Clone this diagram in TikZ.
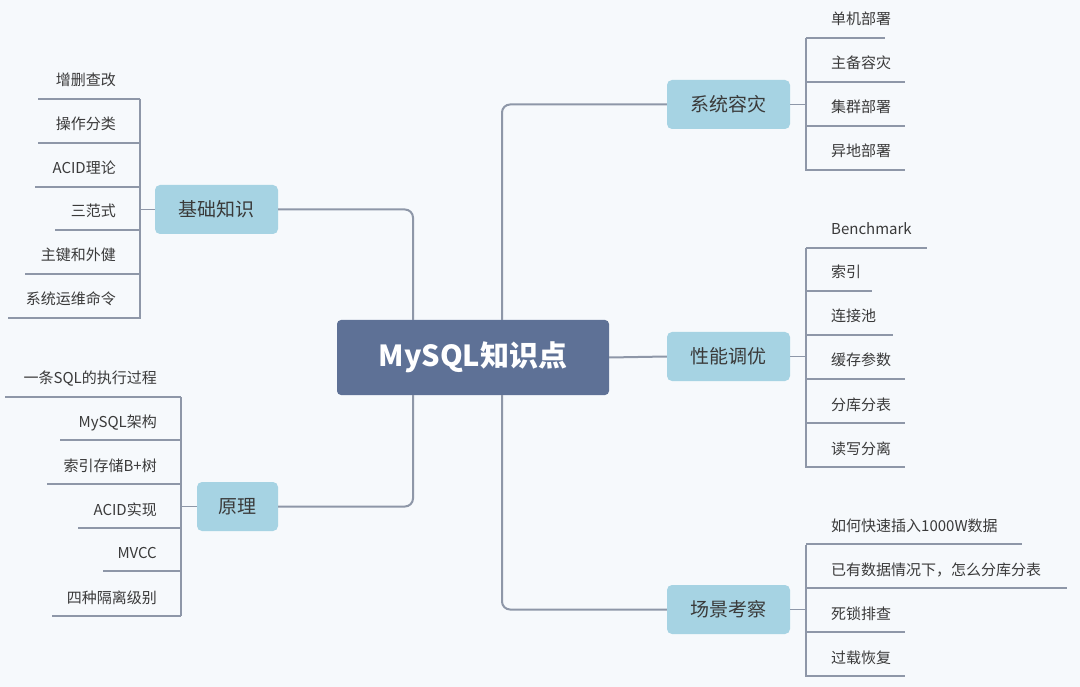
\documentclass[tikz,border=0pt]{standalone}
\usepackage{fontspec}
\setmainfont{Noto Sans CJK SC}
\definecolor{bg}{HTML}{F6F9FC}
\definecolor{ln}{HTML}{8E97A8}
\definecolor{cen}{HTML}{5E7196}
\definecolor{br}{HTML}{A6D3E3}
\definecolor{tx}{HTML}{3A3A3A}
\begin{document}
\begin{tikzpicture}[x=1pt,y=-1pt,
 conn/.style={draw=ln,line width=2pt,rounded corners=8pt},
 uline/.style={draw=ln,line width=1.5pt,rounded corners=6pt},
 brbox/.style={fill=br,rounded corners=5pt,text=tx,font=\fontsize{19}{19}\selectfont,inner sep=0pt},
 lf/.style={text=tx,font=\fontsize{15}{15}\selectfont,inner sep=0pt}]
\fill[bg] (0,0) rectangle (1080,687);
\useasboundingbox (0,0) rectangle (1080,687);
\node[fill=cen,rounded corners=4pt,minimum width=272pt,minimum height=75pt,text=white,font=\fontsize{29}{29}\selectfont\bfseries,inner sep=0pt] (c) at (473,357.5) {MySQL知识点};
\node[brbox,minimum width=123pt,minimum height=49pt] (b1) at (216.5,209.5) {基础知识};
\node[brbox,minimum width=81pt,minimum height=49pt] (b2) at (237.5,506.5) {原理};
\node[brbox,minimum width=123pt,minimum height=49pt] (b3) at (728.5,104.5) {系统容灾};
\node[brbox,minimum width=123pt,minimum height=49pt] (b4) at (728.5,356.5) {性能调优};
\node[brbox,minimum width=123pt,minimum height=49pt] (b5) at (728.5,609.5) {场景考察};
\coordinate (c1) at (413,320); \coordinate (c2) at (413,395);
\coordinate (c3) at (502,320); \coordinate (c5) at (502,395);
\draw[conn] (c1) |- (b1.east);
\draw[conn] (c2) |- (b2.east);
\draw[conn] (c3) |- (b3.west);
\draw[conn] (c.east) -- (b4.west);
\draw[conn] (c5) |- (b5.west);
% left leaves
\newcommand{\leftleaves}[4]{% branch, bracket x, text right x, list {y/ulstart/text}
 \coordinate (bx#1) at (#2,0);
 \draw[conn,line width=1.5pt] (#1.west) -- (#2,0 |- #1.west);
 \foreach \yy/\xs/\tt [count=\i] in {#4}{
   \node[lf,anchor=base east] (#1l\i) at (#3,\yy+5) {\tt};
   \draw[uline] (\xs,\yy+18) -- (#2,\yy+18);
 }}
\leftleaves{b1}{140}{116}{81/38/增删查改,125/38/操作分类,169/35/ACID理论,212/55/三范式,256/25/主键和外健,300/8/系统运维命令}
\draw[uline] (140,99) -- (140,319);
\leftleaves{b2}{181}{157}{379/5/一条SQL的执行过程,422/60/MySQL架构,466/47/索引存储B+树,510/78/ACID实现,553/103/MVCC,598/52/四种隔离级别}
\draw[uline] (181,397) -- (181,616);
% right leaves
\newcommand{\rightleaves}[2]{%
 \draw[conn,line width=1.5pt] (#1.east) -- (806,0 |- #1.east);
 \foreach \yy/\xe/\tt [count=\i] in {#2}{
   \node[lf,anchor=base west] (#1l\i) at (831,\yy+5) {\tt};
   \draw[uline] (806,\yy+18) -- (\xe,\yy+18);
 }}
\rightleaves{b3}{20/885/单机部署,64/905/主备容灾,108/905/集群部署,152/905/异地部署}
\draw[uline] (806,38) -- (806,171);
\rightleaves{b4}{230/927/Benchmark,273/872/索引,317/893/连接池,361/905/缓存参数,405/905/分库分表,449/905/读写分离}
\draw[uline] (806,248) -- (806,468);
\rightleaves{b5}{526/1022/如何快速插入1000W数据,570/1067/已有数据情况下，怎么分库分表,614/905/死锁排查,658/905/过载恢复}
\draw[uline] (806,545) -- (806,677);
\end{tikzpicture}
\end{document}
